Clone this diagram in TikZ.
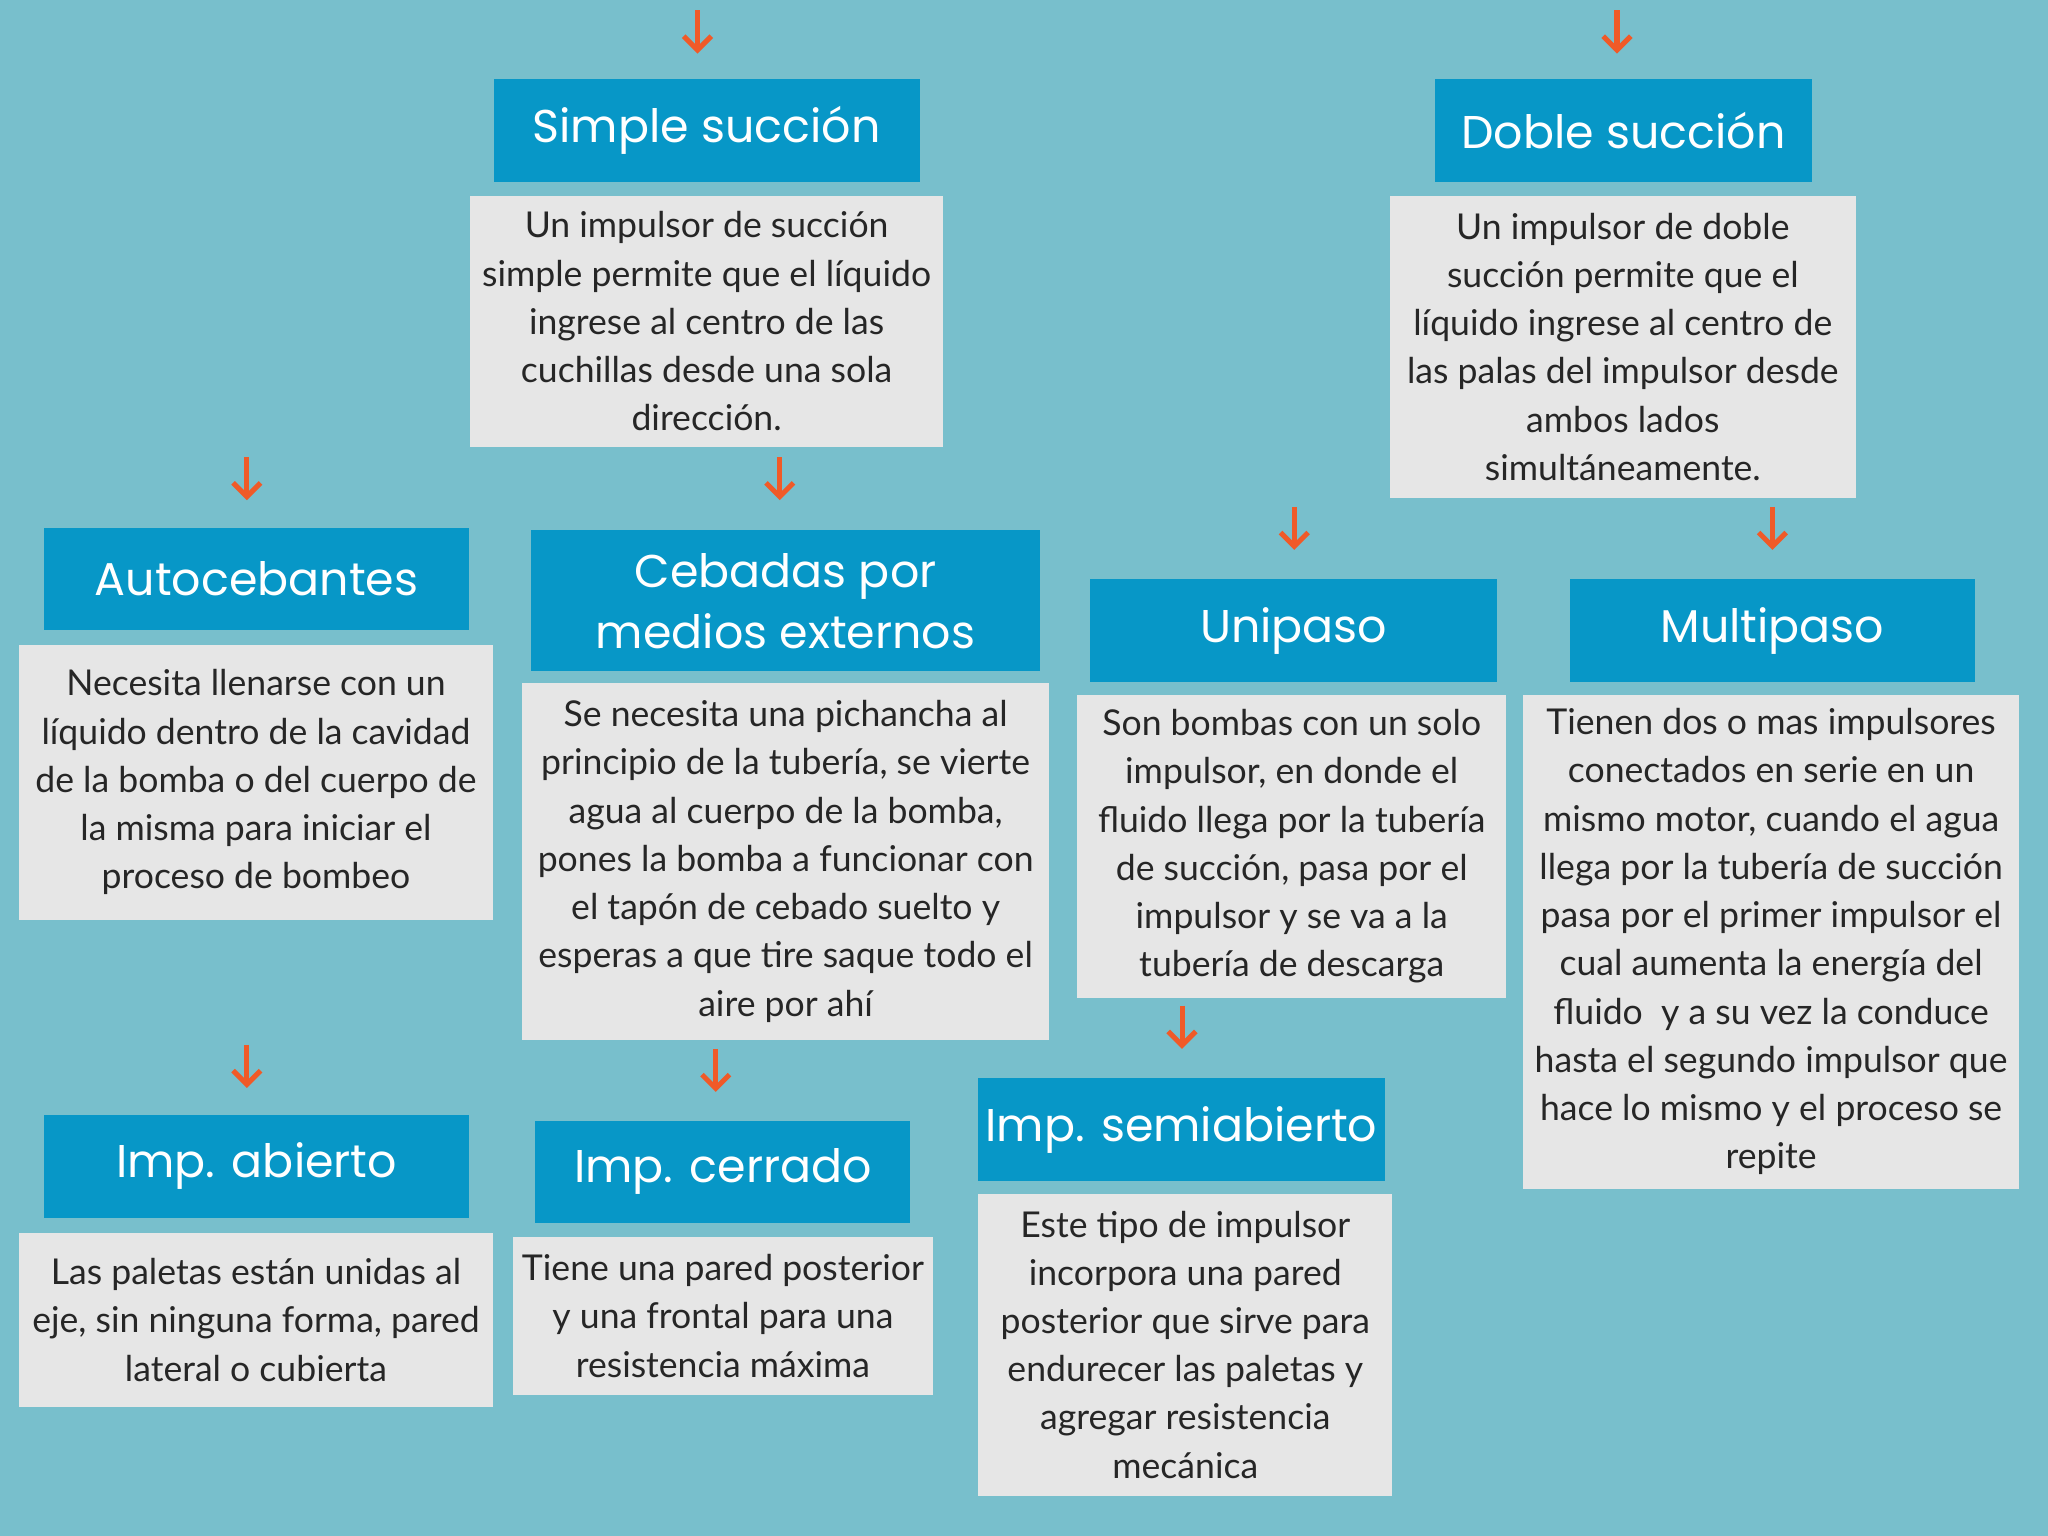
\documentclass[tikz,border=0pt]{standalone}
\usepackage{fontspec}
\setmainfont{Lato}
\newfontfamily\titlefont{Poppins}
\definecolor{bg}{HTML}{78BFCC}
\definecolor{tb}{HTML}{0797C7}
\definecolor{gb}{HTML}{E6E6E6}
\definecolor{ar}{HTML}{F05A28}
\tikzset{
 ttl/.style={fill=tb,text=white,font=\titlefont\fontsize{10}{13.3}\selectfont,align=center,inner sep=0pt},
 txt/.style={fill=gb,text=black!85,font=\fontsize{7.75}{10.5}\selectfont,align=center,inner sep=0pt},
 arr/.style={draw=ar,line width=1.1pt,-{Straight Barb[length=3pt,width=6pt]}}
}
\usetikzlibrary{arrows.meta}
\newcommand{\bx}[7]{\node[#1,minimum width=#4cm,minimum height=#5cm] (#7) at (#2,#3) {#6};}
\begin{document}
\begin{tikzpicture}[x=0.01cm,y=-0.01cm]
\fill[bg] (0,0) rectangle (1568,1176);
\useasboundingbox (0,0) rectangle (1568,1176);
\bx{ttl}{541}{100}{3.26}{0.79}{Simple succión}{t1}
\bx{txt}{541}{246}{3.62}{1.92}{Un impulsor de succión\\simple permite que el líquido\\ingrese al centro de las\\cuchillas desde una sola\\dirección.}{b1}
\bx{ttl}{1243}{100}{2.88}{0.79}{Doble succión}{t2}
\bx{txt}{1242.5}{265.5}{3.57}{2.31}{Un impulsor de doble\\succión permite que el\\líquido ingrese al centro de\\las palas del impulsor desde\\ambos lados\\simultáneamente.}{b2}
\bx{ttl}{196.5}{443}{3.25}{0.78}{Autocebantes}{t3}
\bx{txt}{196}{599}{3.62}{2.10}{Necesita llenarse con un\\líquido dentro de la cavidad\\de la bomba o del cuerpo de\\la misma para iniciar el\\proceso de bombeo}{b3}
\bx{ttl}{601.5}{460}{3.89}{1.08}{Cebadas por\\medios externos}{t4}
\bx{txt}{601.5}{659.5}{4.03}{2.73}{Se necesita una pichancha al\\principio de la tubería, se vierte\\agua al cuerpo de la bomba,\\pones la bomba a funcionar con\\el tapón de cebado suelto y\\esperas a que tire saque todo el\\aire por ahí}{b4}
\bx{ttl}{990.5}{483}{3.11}{0.79}{Unipaso}{t5}
\bx{txt}{989}{648}{3.28}{2.32}{Son bombas con un solo\\impulsor, en donde el\\fluido llega por la tubería\\de succión, pasa por el\\impulsor y se va a la\\tubería de descarga}{b5}
\bx{ttl}{1357}{483}{3.10}{0.79}{Multipaso}{t6}
\bx{txt}{1356}{721}{3.80}{3.78}{Tienen dos o mas impulsores\\conectados en serie en un\\mismo motor, cuando el agua\\llega por la tubería de succión\\pasa por el primer impulsor el\\cual aumenta la energía del\\fluido \ y a su vez la conduce\\hasta el segundo impulsor que\\hace lo mismo y el proceso se\\repite}{b6}
\bx{ttl}{196.5}{893}{3.25}{0.79}{Imp. abierto}{t7}
\bx{txt}{196}{1010.5}{3.62}{1.33}{Las paletas están unidas al\\eje, sin ninguna forma, pared\\lateral o cubierta}{b7}
\bx{ttl}{553.5}{897}{2.87}{0.78}{Imp. cerrado}{t8}
\bx{txt}{553.5}{1007.5}{3.21}{1.21}{Tiene una pared posterior\\y una frontal para una\\resistencia máxima}{b8}
\bx{ttl}{904.5}{865}{3.11}{0.79}{Imp. semiabierto}{t9}
\bx{txt}{907.5}{1029.5}{3.17}{2.31}{Este tipo de impulsor\\incorpora una pared\\posterior que sirve para\\endurecer las paletas y\\agregar resistencia\\mecánica}{b9}
\foreach \x/\y in {534/8,1238/8,189/350,597/350,991/388,1357/388,189/800,548/803,905/770}
  \draw[arr] (\x,\y) -- (\x,\y+33);
\end{tikzpicture}
\end{document}
